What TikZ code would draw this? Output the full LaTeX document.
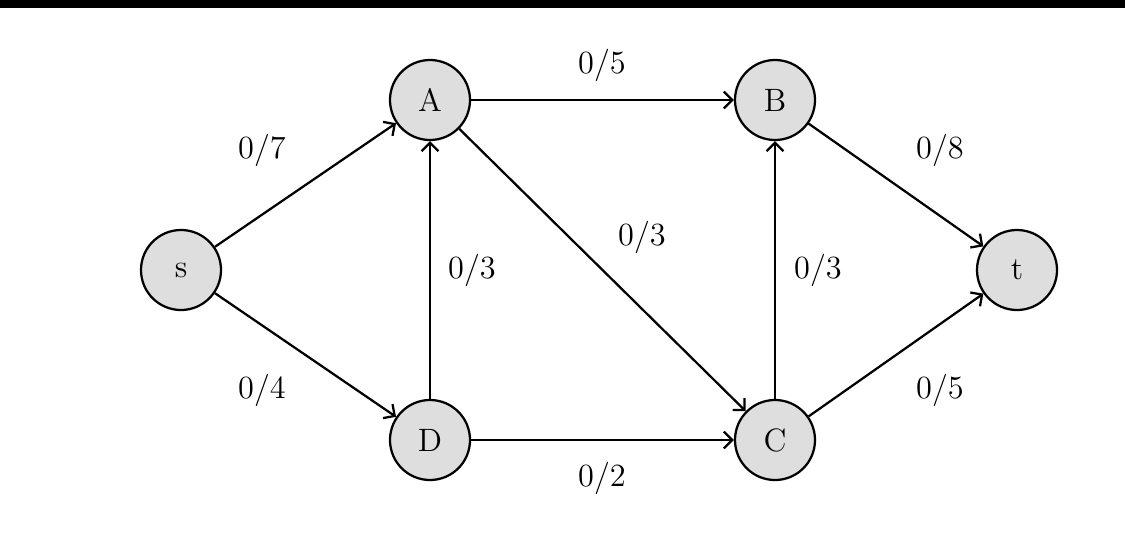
\documentclass[tikz,border=0pt]{standalone}
\usetikzlibrary{arrows.meta}
\begin{document}
\begin{tikzpicture}[x=0.0125cm,y=-0.0125cm,font=\fontsize{11.5}{13}\selectfont,
  vert/.style={circle,draw,line width=0.8pt,fill=black!13,minimum size=1cm,inner sep=0pt},
  edge/.style={draw,line width=0.8pt,-{Straight Barb[length=3pt]}},
  lbl/.style={inner sep=0pt}]
\useasboundingbox (0,0) rectangle (1125,553);
\fill[black] (0,0) rectangle (1125,8);
\node[vert] (s) at (181,270) {s};
\node[vert] (A) at (430,100) {A};
\node[vert] (B) at (775,100) {B};
\node[vert] (t) at (1017,270) {t};
\node[vert] (D) at (430,440) {D};
\node[vert] (C) at (775,440) {C};
\draw[edge] (s) -- (A);
\draw[edge] (s) -- (D);
\draw[edge] (A) -- (B);
\draw[edge] (D) -- (C);
\draw[edge] (D) -- (A);
\draw[edge] (A) -- (C);
\draw[edge] (C) -- (B);
\draw[edge] (B) -- (t);
\draw[edge] (C) -- (t);
\node[lbl] (l1) at (262,150) {0/7};
\node[lbl] (l2) at (262,390) {0/4};
\node[lbl] (l3) at (602,65) {0/5};
\node[lbl] (l4) at (602,478) {0/2};
\node[lbl] (l5) at (472,270) {0/3};
\node[lbl] (l6) at (642,237) {0/3};
\node[lbl] (l7) at (818,270) {0/3};
\node[lbl] (l8) at (940,150) {0/8};
\node[lbl] (l9) at (940,390) {0/5};
\end{tikzpicture}
\end{document}
